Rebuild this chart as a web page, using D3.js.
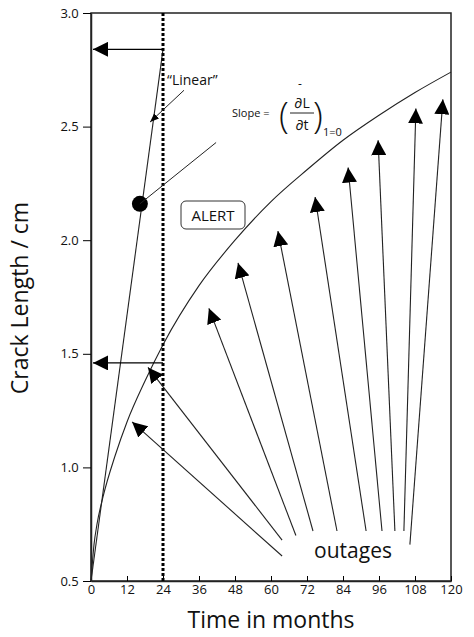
<!DOCTYPE html><html><head><meta charset="utf-8">
<script src="https://cdn.jsdelivr.net/npm/d3@7"></script>
<style>body{margin:0;background:#fff}text{font-family:"Open Sans",sans-serif;fill:#111}</style></head><body>
<svg id="c" width="474" height="637"></svg>
<script>
const xTicks=[0,12,24,36,48,60,72,84,96,108,120];
const yTicks=[0.5,1.0,1.5,2.0,2.5,3.0];
const curveT=[0,1,2,4,8,12,18,24,36,48,60,72,84,96,108,120];
const curveL=[0.5,0.66,0.75,0.87,1.05,1.2,1.38,1.54,1.8,2.0,2.17,2.31,2.44,2.55,2.65,2.74];
const linearT=[0,24];
const linearL=[0.5,2.84];
const inspectT=24;
const readL=[2.84,1.46];
const dot={t:16.3,L:2.16};
const tipT=[13.7,19,39.3,49,62.3,74.7,85.7,95.7,108.3,117.3];
const tipL=[1.20,1.44,1.70,1.90,2.04,2.19,2.32,2.44,2.58,2.62];
const tailT=[63.7,63.7,68.3,74,82,91.7,97,101.3,104.3,106.3];
const tailL=[0.61,0.68,0.70,0.72,0.72,0.72,0.72,0.72,0.72,0.66];

const svg=d3.select("#c");
const x=d3.scaleLinear().domain([0,120]).range([91,451]);
const y=d3.scaleLinear().domain([0.5,3.0]).range([581,13]);
const defs=svg.append("defs");
defs.append("marker").attr("id","ah").attr("viewBox","0 0 10 10").attr("refX",10).attr("refY",5)
 .attr("markerWidth",15).attr("markerHeight",15).attr("markerUnits","userSpaceOnUse").attr("orient","auto")
 .append("path").attr("d","M0,0L10,5L0,10Z").attr("fill","#000");
defs.append("marker").attr("id","ah2").attr("viewBox","0 0 10 10").attr("refX",10).attr("refY",5)
 .attr("markerWidth",9).attr("markerHeight",9).attr("markerUnits","userSpaceOnUse").attr("orient","auto")
 .append("path").attr("d","M0,1L10,5L0,9Z").attr("fill","#000");

svg.append("rect").attr("x",x(0)).attr("y",y(3)).attr("width",x(120)-x(0)).attr("height",y(0.5)-y(3))
 .attr("fill","none").attr("stroke","#222").attr("stroke-width",1.5);
const xa=svg.append("g").attr("transform",`translate(0,${y(0.5)})`)
 .call(d3.axisBottom(x).tickValues(xTicks).tickSize(5).tickSizeOuter(0));
xa.selectAll("line").attr("transform","translate(0,-5)");
xa.selectAll("text").attr("font-size",13).attr("y",4);
const ya=svg.append("g").attr("transform",`translate(${x(0)},0)`)
 .call(d3.axisLeft(y).tickValues(yTicks).tickFormat(d3.format(".1f")).tickSize(8).tickSizeOuter(0));
ya.selectAll("text").attr("font-size",13).attr("dx","-0.1em");
svg.selectAll(".domain").attr("stroke","#222").attr("stroke-width",1.5);

svg.append("path").datum(curveT.map((t,i)=>[t,curveL[i]]))
 .attr("d",d3.line().x(d=>x(d[0])).y(d=>y(d[1])).curve(d3.curveMonotoneX))
 .attr("fill","none").attr("stroke","#222").attr("stroke-width",1.1);
svg.append("line").attr("x1",x(linearT[0])).attr("y1",y(linearL[0])).attr("x2",x(linearT[1])).attr("y2",y(linearL[1]))
 .attr("stroke","#222").attr("stroke-width",1.1);
svg.append("line").attr("x1",x(inspectT)).attr("x2",x(inspectT)).attr("y1",y(3)).attr("y2",y(0.5))
 .attr("stroke","#000").attr("stroke-width",3).attr("stroke-dasharray","3,2");
readL.forEach(v=>svg.append("line").attr("x1",x(inspectT)).attr("y1",y(v)).attr("x2",x(0)+2).attr("y2",y(v))
 .attr("stroke","#000").attr("stroke-width",1.2).attr("marker-end","url(#ah)"));
svg.append("circle").attr("cx",x(dot.t)).attr("cy",y(dot.L)).attr("r",8).attr("fill","#000");
svg.append("line").attr("x1",x(dot.t)).attr("y1",y(dot.L)).attr("x2",x(41.7)).attr("y2",y(2.43))
 .attr("stroke","#222").attr("stroke-width",1);
svg.append("text").attr("x",167).attr("y",85).attr("font-size",14).text("\u201CLinear\u201D");
svg.append("line").attr("x1",x(31)).attr("y1",y(2.66)).attr("x2",x(19.7)).attr("y2",y(2.52))
 .attr("stroke","#222").attr("stroke-width",1).attr("marker-end","url(#ah2)");
const f=svg.append("g");
f.append("text").attr("x",232).attr("y",117).attr("font-size",11).text("Slope =");
f.append("text").attr("x",279).attr("y",128).attr("font-size",36).attr("font-weight",300).text("(");
f.append("text").attr("x",313).attr("y",128).attr("font-size",36).attr("font-weight",300).text(")");
f.append("text").attr("x",300).attr("y",88).attr("font-size",12).attr("text-anchor","middle").text("-");
f.append("text").attr("x",302).attr("y",108).attr("font-size",14).attr("text-anchor","middle").text("\u2202L");
f.append("line").attr("x1",290).attr("x2",314).attr("y1",113).attr("y2",113).attr("stroke","#222");
f.append("text").attr("x",302).attr("y",130).attr("font-size",14).attr("text-anchor","middle").text("\u2202t");
f.append("text").attr("x",323).attr("y",136).attr("font-size",11).text("1=0");
svg.append("rect").attr("x",181).attr("y",201).attr("width",64).attr("height",28).attr("rx",5)
 .attr("fill","#fff").attr("stroke","#333").attr("stroke-width",1);
svg.append("text").attr("x",213).attr("y",221).attr("font-size",15).attr("text-anchor","middle").text("ALERT");
tipT.forEach((t,i)=>svg.append("line").attr("x1",x(tailT[i])).attr("y1",y(tailL[i])).attr("x2",x(t)).attr("y2",y(tipL[i]))
 .attr("stroke","#222").attr("stroke-width",1.1).attr("marker-end","url(#ah)"));
svg.append("text").attr("x",353).attr("y",558).attr("font-size",21).attr("text-anchor","middle").text("outages");
svg.append("text").attr("x",271).attr("y",628).attr("font-size",23).attr("text-anchor","middle").text("Time in months");
svg.append("text").attr("transform","translate(28,298) rotate(-90)").attr("font-size",23).attr("text-anchor","middle").text("Crack Length / cm");
</script></body></html>
